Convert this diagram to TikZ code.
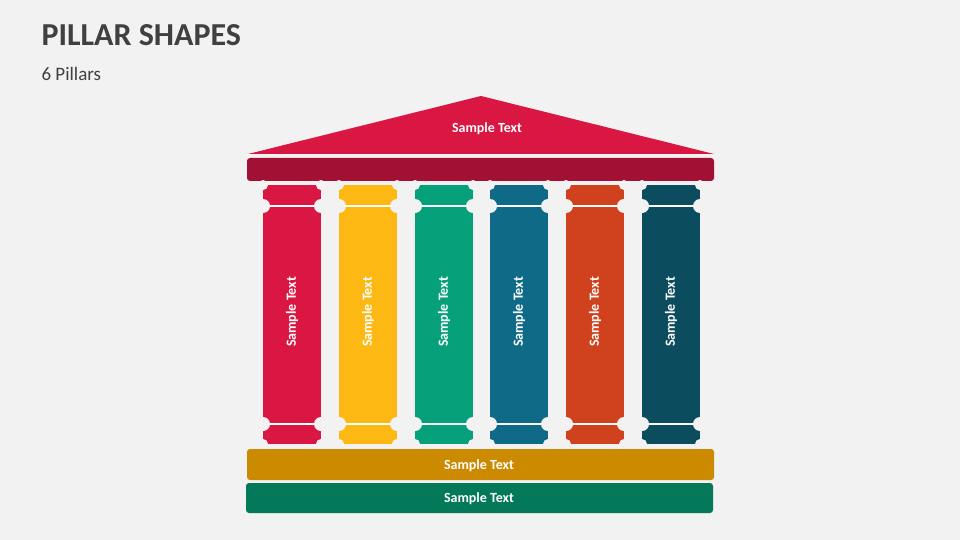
\documentclass[tikz,border=0pt]{standalone}
\usepackage{fontspec}
\setmainfont{Carlito}
\definecolor{bg}{HTML}{F2F2F2}
\definecolor{c1}{HTML}{DA1642}
\definecolor{c2}{HTML}{FDB813}
\definecolor{c3}{HTML}{06A07A}
\definecolor{c4}{HTML}{0F6A88}
\definecolor{c5}{HTML}{D0411E}
\definecolor{c6}{HTML}{0B4C5F}
\definecolor{beam}{HTML}{A21034}
\definecolor{base1}{HTML}{CC8A00}
\definecolor{base2}{HTML}{03795A}
\definecolor{ttl}{HTML}{404040}
\tikzset{lbl/.style={text=white,font=\bfseries\fontsize{14}{16}\selectfont},
 slab/.style={rounded corners=3pt}}
\begin{document}
\begin{tikzpicture}[x=1pt,y=-1pt]
\fill[bg] (0,0) rectangle (960,540);
\useasboundingbox (0,0) rectangle (960,540);
\node[anchor=west,text=ttl,font=\bfseries\fontsize{32}{36}\selectfont] (title) at (38,35) {PILLAR SHAPES};
\node[anchor=west,text=ttl,font=\fontsize{19}{22}\selectfont] (sub) at (38,74) {6 Pillars};
\fill[c1] (248,154) -- (481,96) -- (714,154) -- cycle;
\node[lbl] (roof) at (487,129) {Sample Text};
\fill[beam,slab] (247,158) rectangle (714,181);
\coordinate (beamc) at (480,169);
\foreach \x/\c/\n in {263/c1/p1,339/c2/p2,415/c3/p3,490/c4/p4,566/c5/p5,642/c6/p6}{
  \fill[\c] (\x,185) rectangle ++(58,259);
  \foreach \y in {185,444}{
    \fill[bg] (\x,\y) circle (5); \fill[bg] (\x+58,\y) circle (5);}
  \foreach \y in {206,424}{
    \fill[bg] (\x,\y) circle (7); \fill[bg] (\x+58,\y) circle (7);
    \fill[white] (\x+7,\y-1) rectangle (\x+51,\y+1);}
  \node[lbl,rotate=90] (\n) at (\x+29,312) {Sample Text};
}
\fill[base1,slab] (247,449) rectangle (714,480);
\node[lbl] (b1) at (479,466) {Sample Text};
\fill[base2,slab] (246,483) rectangle (713,513);
\node[lbl] (b2) at (479,499) {Sample Text};
\end{tikzpicture}
\end{document}
